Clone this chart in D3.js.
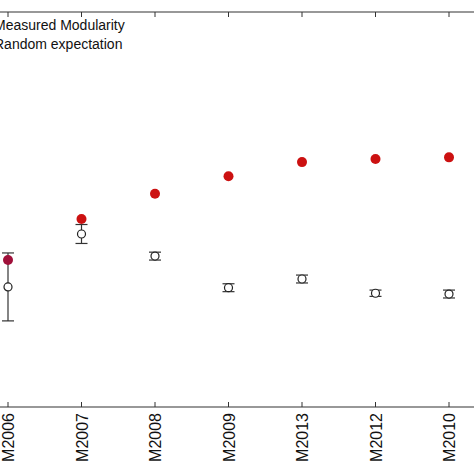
<!DOCTYPE html><html><head><script src="https://cdn.jsdelivr.net/npm/d3@7"></script>
<style>body{margin:0;background:#fff}</style></head><body><svg id="c" width="474" height="474"></svg><script>
const categories=["M2006","M2007","M2008","M2009","M2013","M2012","M2010"];
const measured=[0.286,0.338,0.370,0.392,0.410,0.414,0.416];
const randomMean=[0.252,0.319,0.291,0.251,0.262,0.244,0.243];
const randomErr=[0.043,0.012,0.005,0.005,0.005,0.004,0.005];
const svg=d3.select("#c");
const x=d3.scalePoint().domain(categories).range([8,449]);
const y=d3.scaleLinear().domain([0.1,0.6]).range([407,12]);
const col="#333";
svg.append("line").attr("x1",0).attr("x2",474).attr("y1",12).attr("y2",12).attr("stroke",col).attr("stroke-width",1.2);
svg.append("line").attr("x1",0).attr("x2",474).attr("y1",407).attr("y2",407).attr("stroke",col).attr("stroke-width",1.2);
categories.forEach(c=>{
 svg.append("line").attr("x1",x(c)).attr("x2",x(c)).attr("y1",12).attr("y2",17).attr("stroke",col);
 svg.append("line").attr("x1",x(c)).attr("x2",x(c)).attr("y1",402).attr("y2",407).attr("stroke",col);
 svg.append("text").attr("transform",`translate(${x(c)+6},${413}) rotate(-90)`).attr("text-anchor","end")
  .attr("font-family","Liberation Sans, Arial").attr("font-size",16).attr("fill","#111").text(c);
});
categories.forEach((c,i)=>{
 const cx=x(c),lo=y(randomMean[i]-randomErr[i]),hi=y(randomMean[i]+randomErr[i]);
 svg.append("line").attr("x1",cx).attr("x2",cx).attr("y1",lo).attr("y2",hi).attr("stroke",col).attr("stroke-width",1.2);
 [lo,hi].forEach(v=>svg.append("line").attr("x1",cx-6).attr("x2",cx+6).attr("y1",v).attr("y2",v).attr("stroke",col).attr("stroke-width",1.2));
 svg.append("circle").attr("cx",cx).attr("cy",y(randomMean[i])).attr("r",4).attr("fill","#fff").attr("stroke","#222").attr("stroke-width",1.2);
 svg.append("circle").attr("cx",cx).attr("cy",y(measured[i])).attr("r",5).attr("fill",i==0?"#a0103a":"#cc1111");
});
const lg=[["Measured Modularity",30],["Random expectation",49]];
lg.forEach(([t,yy])=>svg.append("text").attr("x",-6).attr("y",yy).attr("font-family","Liberation Sans, Arial").attr("font-size",14).attr("fill","#111").text(t.replace("Random","Random")));
</script></body></html>
